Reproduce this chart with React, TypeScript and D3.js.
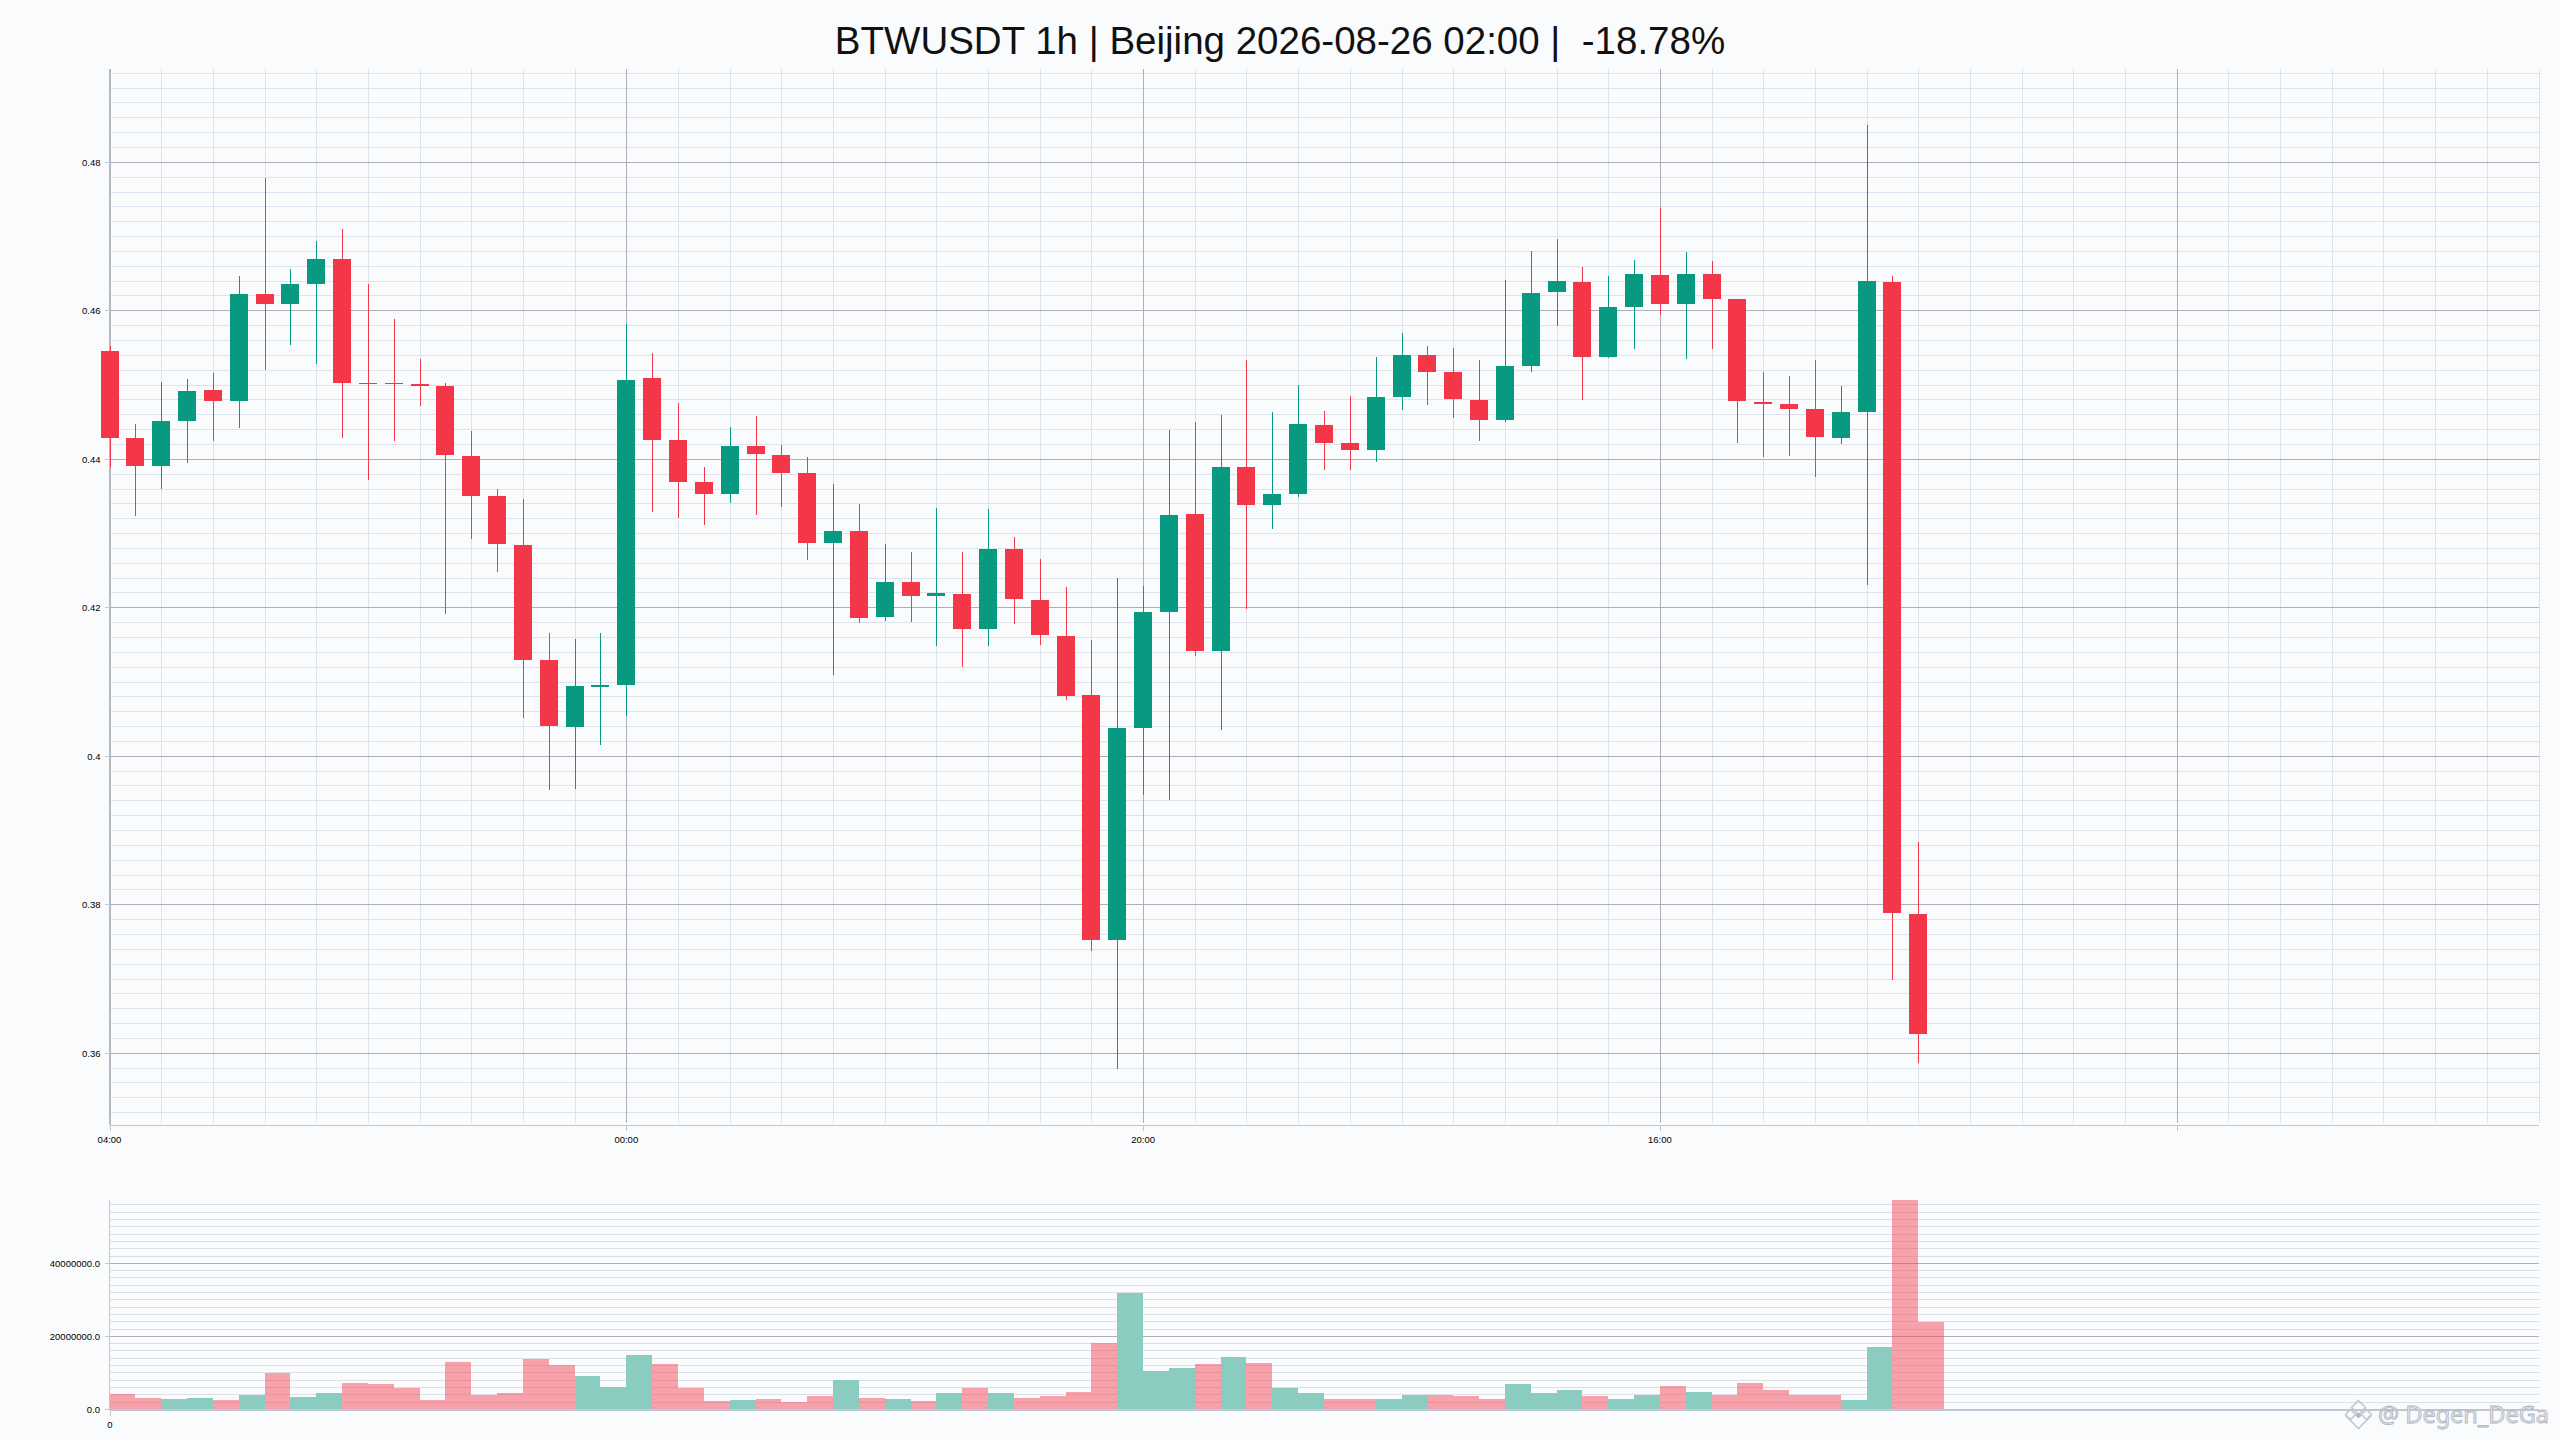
import React from "react";
import * as d3 from "d3";

const titleText = "BTWUSDT 1h | Beijing 2026-08-26 02:00 |  -18.78%";

const opens = [
  0.4546, 0.4429, 0.4391, 0.4452, 0.4493, 0.4479, 0.4623, 0.4609, 0.4636, 0.4670,
  0.4503, 0.4503, 0.4501, 0.4499, 0.4405, 0.4351, 0.4285, 0.4130, 0.4040, 0.4095,
  0.4096, 0.4510, 0.4426, 0.4369, 0.4353, 0.4418, 0.4406, 0.4382, 0.4287, 0.4303,
  0.4188, 0.4235, 0.4216, 0.4219, 0.4171, 0.4279, 0.4210, 0.4162, 0.4083, 0.3753,
  0.4038, 0.4194, 0.4326, 0.4142, 0.4390, 0.4338, 0.4353, 0.4446, 0.4422, 0.4413,
  0.4484, 0.4540, 0.4518, 0.4480, 0.4453, 0.4526, 0.4625, 0.4639, 0.4538, 0.4605,
  0.4648, 0.4609, 0.4650, 0.4616, 0.4477, 0.4475, 0.4468, 0.4429, 0.4464, 0.4639,
  0.3788,
];
const highs = [
  0.4553, 0.4448, 0.4504, 0.4508, 0.4516, 0.4647, 0.4779, 0.4656, 0.4694, 0.4710,
  0.4636, 0.4589, 0.4535, 0.4503, 0.4438, 0.4360, 0.4347, 0.4166, 0.4158, 0.4166,
  0.4582, 0.4543, 0.4476, 0.4390, 0.4443, 0.4458, 0.4419, 0.4403, 0.4367, 0.4340,
  0.4286, 0.4275, 0.4334, 0.4275, 0.4333, 0.4295, 0.4266, 0.4228, 0.4157, 0.4240,
  0.4229, 0.4440, 0.4450, 0.4460, 0.4534, 0.4464, 0.4500, 0.4465, 0.4485, 0.4538,
  0.4570, 0.4553, 0.4550, 0.4534, 0.4642, 0.4681, 0.4697, 0.4659, 0.4647, 0.4668,
  0.4738, 0.4679, 0.4667, 0.4616, 0.4518, 0.4512, 0.4534, 0.4499, 0.4850, 0.4647,
  0.3885,
];
const lows = [
  0.4390, 0.4323, 0.4360, 0.4395, 0.4425, 0.4442, 0.4520, 0.4554, 0.4528, 0.4429,
  0.4372, 0.4425, 0.4472, 0.4192, 0.4293, 0.4248, 0.4052, 0.3955, 0.3956, 0.4015,
  0.4054, 0.4329, 0.4321, 0.4312, 0.4341, 0.4325, 0.4336, 0.4264, 0.4110, 0.4180,
  0.4182, 0.4181, 0.4149, 0.4120, 0.4149, 0.4178, 0.4150, 0.4076, 0.3738, 0.3579,
  0.3948, 0.3941, 0.4135, 0.4035, 0.4198, 0.4306, 0.4349, 0.4386, 0.4386, 0.4396,
  0.4466, 0.4473, 0.4456, 0.4425, 0.4450, 0.4518, 0.4580, 0.4480, 0.4536, 0.4549,
  0.4594, 0.4535, 0.4549, 0.4422, 0.4403, 0.4405, 0.4376, 0.4421, 0.4231, 0.3699,
  0.3587,
];
const closes = [
  0.4429, 0.4391, 0.4452, 0.4492, 0.4479, 0.4623, 0.4609, 0.4636, 0.4670, 0.4503,
  0.4501, 0.4501, 0.4499, 0.4406, 0.4351, 0.4286, 0.4130, 0.4041, 0.4095, 0.4096,
  0.4507, 0.4426, 0.4369, 0.4353, 0.4418, 0.4407, 0.4382, 0.4287, 0.4303, 0.4186,
  0.4235, 0.4216, 0.4220, 0.4171, 0.4279, 0.4212, 0.4163, 0.4081, 0.3753, 0.4038,
  0.4194, 0.4325, 0.4142, 0.4390, 0.4338, 0.4353, 0.4448, 0.4422, 0.4413, 0.4484,
  0.4540, 0.4518, 0.4481, 0.4453, 0.4526, 0.4624, 0.4640, 0.4538, 0.4605, 0.4650,
  0.4609, 0.4650, 0.4616, 0.4479, 0.4475, 0.4468, 0.4430, 0.4464, 0.4640, 0.3789,
  0.3626,
];
const volumes = [
  4.2, 3.1, 2.83, 3.1, 2.56, 3.93, 9.95, 3.38, 4.47, 7.21,
  6.94, 5.84, 2.56, 12.97, 3.93, 4.47, 13.79, 12.15, 9.13, 6.12,
  14.88, 12.42, 5.84, 2.28, 2.56, 2.83, 2.0, 3.65, 8.04, 3.1,
  2.83, 2.28, 4.47, 5.84, 4.47, 3.1, 3.65, 4.75, 18.17, 31.87,
  10.5, 11.32, 12.42, 14.34, 12.69, 5.84, 4.47, 2.83, 2.83, 2.83,
  3.93, 3.93, 3.65, 2.83, 6.94, 4.47, 5.3, 3.65, 2.83, 3.93,
  6.39, 4.75, 3.93, 7.21, 5.3, 3.93, 3.93, 2.56, 17.08, 57.35,
  23.93,
].map((m) => m * 1e6);

const priceMajor = [0.36, 0.38, 0.4, 0.42, 0.44, 0.46, 0.48];
const priceLabels = ["0.36", "0.38", "0.4", "0.42", "0.44", "0.46", "0.48"];
const timeMajor = [0, 20, 40, 60, 80];
const timeLabels = ["04:00", "00:00", "20:00", "16:00", ""];
const volMajor = [0, 20000000, 40000000];
const volLabels = ["0.0", "20000000.0", "40000000.0"];

const W = 2560;
const H = 1440;
const BG = "#fafbfd";
const RED = "#f43748";
const GREEN = "#089981";
const MINOR = "#dce3ec";
const VMINOR = "#dcdfe4";
const MAJOR = "#aeb0b5";
const AXIS = "#bcc7d5";
const FONT = "'Liberation Sans', Arial, sans-serif";

const left = 110;
const right = 2539;
const x = d3.scaleLinear().domain([0, 94]).range([left, right]);
const y = d3.scaleLinear().domain([0.35034, 0.49257]).range([1125, 69]);
const yv = d3.scaleLinear().domain([0, 57350000]).range([1409.3, 1200]);

const priceMinor = d3.range(176, 247).filter((k) => k % 10 !== 0).map((k) => k / 500);
const timeMinor = d3.range(0, 95, 2).filter((k) => k % 20 !== 0);
const volMinor = d3.range(1, 29).filter((k) => k % 10 !== 0).map((k) => k * 2000000);

function Watermark() {
  const cx = 2358.5;
  const cy = 1414.5;
  const diamond = (dx: number, dy: number, r: number) =>
    `M${cx + dx},${cy + dy - r}L${cx + dx + r},${cy + dy}L${cx + dx},${cy + dy + r}L${cx + dx - r},${cy + dy}Z`;
  return (
    <g>
      <g fill="none" stroke="#c2c8d1" strokeWidth={1.6}>
        <path d={`M${cx},${cy - 14}L${cx + 7},${cy - 7}L${cx},${cy}L${cx - 7},${cy - 7}Z`} />
        <path d={diamond(-8, 0, 5)} />
        <path d={diamond(8, 0, 5)} />
        <path d={`M${cx - 13},${cy + 1}L${cx},${cy + 14}L${cx + 13},${cy + 1}`} />
      </g>
      <path d={diamond(0, 1, 3)} fill="#b0b7c2" />
      <text
        x={2378}
        y={1423}
        fontFamily="'Noto Sans', sans-serif"
        fontSize={23.5}
        fill="#e6e8ec"
        stroke="#adb4bf"
        strokeWidth={0.8}
      >
        @ Degen_DeGa
      </text>
    </g>
  );
}

export default function App() {
  const bodyW = 18;
  return (
    <svg
      width={W}
      height={H}
      viewBox={`0 0 ${W} ${H}`}
      style={{ position: "fixed", left: 0, top: 0, display: "block" }}
    >
      <rect x={0} y={0} width={W} height={H} fill={BG} />
      <text
        x={W / 2}
        y={54.3}
        textAnchor="middle"
        fontFamily={FONT}
        fontSize={38.5}
        fill="#111"
        style={{ whiteSpace: "pre" }}
      >
        {titleText}
      </text>

      {/* price grid */}
      <g shapeRendering="crispEdges">
        {priceMinor.map((v) => (
          <line key={v} x1={left} x2={right} y1={y(v)} y2={y(v)} stroke={MINOR} />
        ))}
        {timeMinor.map((k) => (
          <line key={k} x1={x(k)} x2={x(k)} y1={69} y2={1123} stroke={MINOR} />
        ))}
        <line x1={x(94)} x2={x(94)} y1={69} y2={1123} stroke={MINOR} />
        {priceMajor.map((v) => (
          <line key={v} x1={left} x2={right} y1={y(v)} y2={y(v)} stroke={MAJOR} />
        ))}
        {timeMajor.map((k) => (
          <line key={k} x1={x(k)} x2={x(k)} y1={69} y2={1123} stroke={MAJOR} />
        ))}
        <line x1={left} x2={left} y1={69} y2={1125} stroke="#b4b8c0" strokeWidth={2} />
        <line x1={left} x2={right} y1={1125.5} y2={1125.5} stroke={AXIS} strokeWidth={1.5} />
        {timeMajor.map((k) => (
          <line key={k} x1={x(k)} x2={x(k)} y1={1125} y2={1131} stroke={AXIS} />
        ))}
        {priceMajor.map((v) => (
          <line key={v} x1={left - 5} x2={left} y1={y(v)} y2={y(v)} stroke={AXIS} />
        ))}
      </g>
      <g fontFamily={FONT} fontSize={9.5} fill="#000">
        {priceMajor.map((v, i) => (
          <text key={v} x={100.5} y={y(v)} dy="0.35em" textAnchor="end">
            {priceLabels[i]}
          </text>
        ))}
        {timeMajor.map((k, i) => (
          <text key={k} x={x(k) - 0.5} y={1139.5} dy="0.35em" textAnchor="middle">
            {timeLabels[i]}
          </text>
        ))}
      </g>

      {/* candles */}
      <g shapeRendering="crispEdges">
        {opens.map((o, i) => {
          const c = closes[i];
          const col = c < o ? RED : GREEN;
          const top = y(Math.max(o, c));
          const bot = y(Math.min(o, c));
          return (
            <g key={i}>
              <line x1={x(i)} x2={x(i)} y1={y(highs[i])} y2={y(lows[i])} stroke={col} strokeWidth={1} />
              <rect x={x(i) - bodyW / 2 - 0.5} y={top} width={bodyW} height={Math.max(bot - top, 1.5)} fill={col} />
            </g>
          );
        })}
      </g>

      {/* volume grid */}
      <g shapeRendering="crispEdges">
        {volMinor.map((v) => (
          <line key={v} x1={left} x2={right} y1={yv(v)} y2={yv(v)} stroke={VMINOR} />
        ))}
        {volMajor.slice(1).map((v) => (
          <line key={v} x1={left} x2={right} y1={yv(v)} y2={yv(v)} stroke={MAJOR} />
        ))}
      </g>

      {/* volume bars */}
      <g shapeRendering="crispEdges">
        {volumes.map((v, i) => {
          const up = closes[i] >= opens[i];
          return (
            <rect
              key={i}
              x={x(i) - 0.5}
              y={yv(v)}
              width={x(i + 1) - x(i)}
              height={yv(0) - yv(v)}
              fill={up ? "#8accbf" : RED}
              fillOpacity={up ? 1 : 0.46}
            />
          );
        })}
        <line x1={left - 0.5} x2={left - 0.5} y1={1200} y2={1410} stroke={AXIS} />
        <line x1={left} x2={right} y1={1410} y2={1410} stroke={AXIS} strokeWidth={1.5} />
        <line x1={left} x2={left} y1={1410} y2={1416} stroke={AXIS} />
        {volMajor.map((v) => (
          <line key={v} x1={left - 5} x2={left} y1={yv(v)} y2={yv(v)} stroke={AXIS} />
        ))}
      </g>
      <g fontFamily={FONT} fontSize={9.5} fill="#000">
        {volMajor.map((v, i) => (
          <text key={v} x={100} y={yv(v)} dy="0.35em" textAnchor="end">
            {volLabels[i]}
          </text>
        ))}
        <text x={left} y={1424.7} dy="0.35em" textAnchor="middle">
          0
        </text>
      </g>

      <Watermark />
    </svg>
  );
}
